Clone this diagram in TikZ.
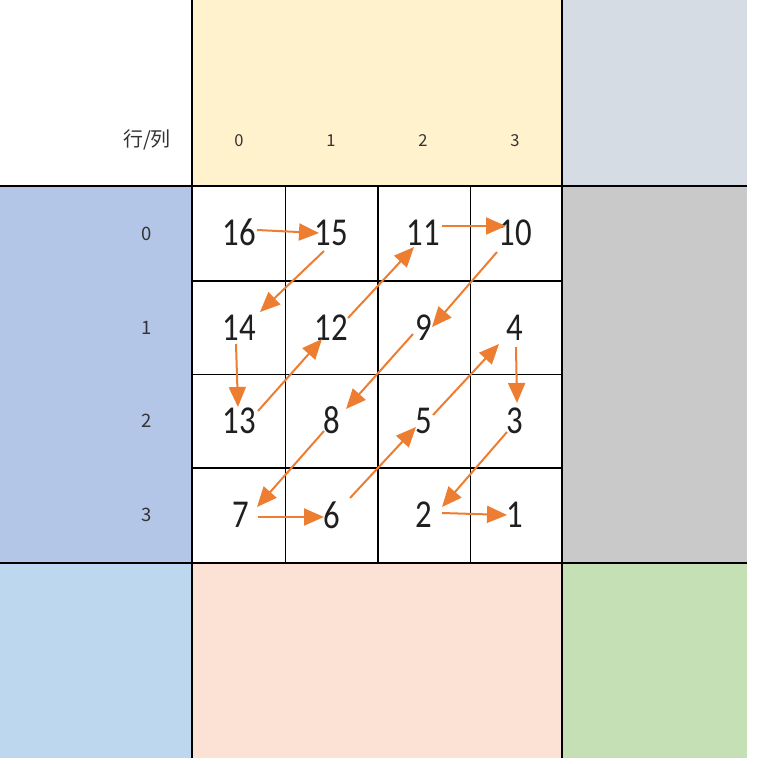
\documentclass[tikz,border=0pt]{standalone}
\usepackage{fontspec}
\usetikzlibrary{arrows.meta,calc}
\newfontfamily\bigfont[FakeStretch=0.83]{Carlito}
\newfontfamily\cjkfont{Noto Sans CJK SC}
\definecolor{cyellow}{HTML}{FFF2CC}
\definecolor{ctopright}{HTML}{D6DCE4}
\definecolor{cleft}{HTML}{B4C6E7}
\definecolor{cright}{HTML}{C9C9C9}
\definecolor{cbl}{HTML}{BDD7EE}
\definecolor{cbm}{HTML}{FBE2D5}
\definecolor{cbr}{HTML}{C5E0B4}
\definecolor{corange}{HTML}{ED7D31}
\begin{document}
\begin{tikzpicture}[x=1pt,y=-1pt,
  num/.style={font=\bigfont\fontsize{39.5}{40}\selectfont, inner sep=0pt, text=black!88},
  lbl/.style={font=\cjkfont\fontsize{16.5}{16.5}\selectfont, inner sep=0pt, text=black!80},
  rowlbl/.style={font=\cjkfont\fontsize{18.5}{18.5}\selectfont, inner sep=0pt, text=black!80},
  hdrlbl/.style={font=\cjkfont\fontsize{20}{20}\selectfont, inner sep=0pt, text=black!80},
  arr/.style={draw=corange, line width=2pt, -{Triangle[length=20pt,width=17pt]}},
  thickline/.style={line width=2.2pt},
  thinline/.style={line width=1pt}]
\useasboundingbox (0,0) rectangle (761,764);
\fill[white] (0,0) rectangle (761,764);
% colored regions
\fill[cyellow] (192,0) rectangle (562,186);
\fill[ctopright] (562,0) rectangle (747,186);
\fill[cleft] (0,186) rectangle (192,563);
\fill[cright] (562,186) rectangle (747,563);
\fill[cbl] (0,563) rectangle (192,758);
\fill[cbm] (192,563) rectangle (562,758);
\fill[cbr] (562,563) rectangle (747,758);
% inner grid lines
\draw[thinline] (285,186) -- (285,563);
\draw[thinline] (470,186) -- (470,563);
\draw[thinline] (192,374) -- (562,374);
\draw[thickline] (378,186) -- (378,563);
\draw[thickline] (192,281) -- (562,281);
\draw[thickline] (192,468) -- (562,468);
% outer lines
\draw[thickline] (0,186) -- (747,186);
\draw[thickline] (0,563) -- (747,563);
\draw[thickline] (192,0) -- (192,758);
\draw[line width=1.6pt] (562,0) -- (562,758);
% header labels
\node[hdrlbl] (hdr) at (147,140) {行/列};
\node[lbl] (c0) at (239,141) {0};
\node[lbl] (c1) at (331,141) {1};
\node[lbl] (c2) at (423,141) {2};
\node[lbl] (c3) at (515,141) {3};
\node[rowlbl] (r0) at (147,234) {0};
\node[rowlbl] (r1) at (147,328) {1};
\node[rowlbl] (r2) at (147,421) {2};
\node[rowlbl] (r3) at (147,515) {3};
% numbers
\node[num] (n16) at (239.5,232.5) {16};
\node[num] (n15) at (331.5,232.5) {15};
\node[num] (n11) at (423,232.5) {11};
\node[num] (n10) at (515,232.5) {10};
\node[num] (n14) at (239.5,327.5) {14};
\node[num] (n12) at (331.5,327.5) {12};
\node[num] (n9) at (424,327.5) {9};
\node[num] (n4) at (515,327.5) {4};
\node[num] (n13) at (239.5,420.5) {13};
\node[num] (n8) at (332,420.5) {8};
\node[num] (n5) at (424,420.5) {5};
\node[num] (n3) at (515,420.5) {3};
\node[num] (n7) at (240.5,515) {7};
\node[num] (n6) at (332,515) {6};
\node[num] (n2) at (424,514.5) {2};
\node[num] (n1) at (515,515) {1};
% arrows
\draw[arr] ($(n16)+(17.5,-2.5)$) -- ($(n15)+(-12.5,0.5)$);
\draw[arr] ($(n15)+(-7.5,18.5)$) -- ($(n14)+(20.5,-15.5)$);
\draw[arr] ($(n14)+(-3.5,16.5)$) -- ($(n13)+(-1.5,-13.5)$);
\draw[arr] ($(n13)+(18.5,-9.5)$) -- ($(n12)+(-9.5,11.5)$);
\draw[arr] ($(n12)+(16.5,-9.5)$) -- ($(n11)+(-9,14.5)$);
\draw[arr] ($(n11)+(19,-6.5)$) -- ($(n10)+(-9,-6.5)$);
\draw[arr] ($(n10)+(-18,19.5)$) -- ($(n9)+(8,-0.5)$);
\draw[arr] ($(n9)+(-11,6.5)$) -- ($(n8)+(14,-11.5)$);
\draw[arr] ($(n8)+(-8,10.5)$) -- ($(n7)+(16.5,-8)$);
\draw[arr] ($(n7)+(17.5,2)$) -- ($(n6)+(-8,2)$);
\draw[arr] ($(n6)+(18,-17)$) -- ($(n5)+(-8,6.5)$);
\draw[arr] ($(n5)+(9,-5.5)$) -- ($(n4)+(-16,16.5)$);
\draw[arr] ($(n4)+(1,19.5)$) -- ($(n3)+(2,-17.5)$);
\draw[arr] ($(n3)+(-8,11.5)$) -- ($(n2)+(18,-7.5)$);
\draw[arr] ($(n2)+(18,-1.5)$) -- ($(n1)+(-8,0)$);
\end{tikzpicture}
\end{document}
